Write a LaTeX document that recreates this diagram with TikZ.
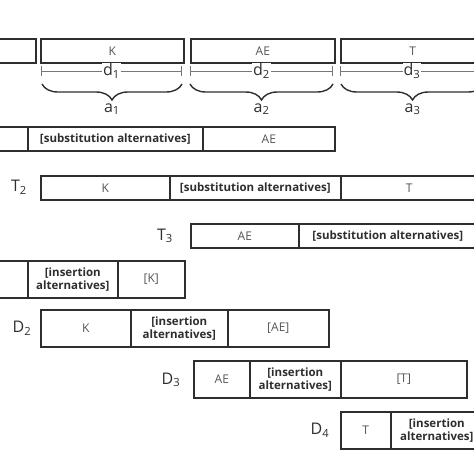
\documentclass[tikz,border=0pt]{standalone}
\usepackage{fontspec}
\setmainfont{Open Sans}
\usepackage{tikz}
\usetikzlibrary{arrows.meta, decorations.pathreplacing, calc}
\definecolor{boxgray}{HTML}{2E2E2E}
\definecolor{textgray}{HTML}{555555}
\definecolor{linegray}{HTML}{777777}

\begin{document}
\begin{tikzpicture}[x=1pt, y=-1pt,
  cell/.style={draw=boxgray, line width=1.6pt, anchor=north west, inner sep=0pt,
    align=center, text=textgray, font=\fontsize{12}{13}\selectfont},
  trow/.style={cell, minimum height=24pt},
  drow/.style={cell, minimum height=37pt},
  alt/.style={text=boxgray, font=\fontsize{11.5}{13.5}\selectfont\bfseries},
  lab/.style={text=boxgray, font=\fontsize{16}{16}\selectfont},
  dimline/.style={draw=linegray, line width=0.8pt, {Bar[width=10pt, line width=1.4pt]}-{Bar[width=10pt, line width=1.4pt]}},
  brace/.style={draw=boxgray, line width=1.4pt, decorate, decoration={brace, amplitude=16pt}}]

\useasboundingbox (0,0) rectangle (474,474);
\clip (0,0) rectangle (474,474);

% original sequence
\node[trow, minimum width=55pt]  (top0)  at (-20,38) {};
\node[trow, minimum width=143pt] (topK)  at (40,38)  {K};
\node[trow, minimum width=144pt] (topAE) at (190,38) {AE};
\node[trow, minimum width=144pt] (topT)  at (340,38) {T};

% durations
\coordinate (d1l) at (41,71);  \coordinate (d1r) at (182,71);
\coordinate (d2l) at (190,71); \coordinate (d2r) at (333,71);
\coordinate (d3l) at (340,71); \coordinate (d3r) at (484,71);
\draw[dimline] (d1l) -- (d1r) node[midway, fill=white, inner sep=1pt, lab] (d1) {d\textsubscript{1}};
\draw[dimline] (d2l) -- (d2r) node[midway, fill=white, inner sep=1pt, lab] (d2) {d\textsubscript{2}};
\draw[dimline] (d3l) -- (d3r) node[midway, fill=white, inner sep=1pt, lab] (d3) {d\textsubscript{3}};

% spans
\coordinate (a1l) at (42,84);  \coordinate (a1r) at (182,84);
\coordinate (a2l) at (190,84); \coordinate (a2r) at (333,84);
\coordinate (a3l) at (341,84); \coordinate (a3r) at (484,84);
\draw[brace] (a1r) -- (a1l);
\draw[brace] (a2r) -- (a2l);
\draw[brace] (a3r) -- (a3l);
\node[lab] (a1) at ($(a1l)!0.5!(a1r)+(0,25)$) {a\textsubscript{1}};
\node[lab] (a2) at ($(a2l)!0.5!(a2r)+(0,25)$) {a\textsubscript{2}};
\node[lab] (a3) at ($(a3l)!0.5!(a3r)+(0,25)$) {a\textsubscript{3}};

% substitutions
\node[trow, minimum width=47pt]  (t1a)  at (-20,126) {};
\node[trow, alt, minimum width=175pt] (t1S) at (27,126) {[substitution alternatives]};
\node[trow, minimum width=132pt] (t1AE) at (202,126) {AE};

\node[lab] (T2) at (19,187) {T\textsubscript{2}};
\node[trow, minimum width=129pt] (t2K) at (40,175) {K};
\node[trow, alt, minimum width=171pt] (t2S) at (169,175) {[substitution alternatives]};
\node[trow, minimum width=137pt] (t2T) at (340,175) {T};

\node[lab] (T3) at (165,236) {T\textsubscript{3}};
\node[trow, minimum width=108pt] (t3AE) at (190,223) {AE};
\node[trow, alt, minimum width=178pt] (t3S) at (298,223) {[substitution alternatives]};

% deletions
\node[drow, minimum width=47pt] (d1a) at (-20,260) {};
\node[drow, alt, minimum width=90pt] (d1I) at (27,260) {[insertion\\alternatives]};
\node[drow, minimum width=67pt] (d1K) at (117,260) {[K]};

\node[lab] (D2) at (22,328) {D\textsubscript{2}};
\node[drow, minimum width=90pt] (d2K) at (40,309) {K};
\node[drow, alt, minimum width=97pt] (d2I) at (130,309) {[insertion\\alternatives]};
\node[drow, minimum width=101pt] (d2AE) at (227,309) {[AE]};

\node[lab] (D3) at (171,380) {D\textsubscript{3}};
\node[drow, minimum width=56pt] (d3AE) at (193,360) {AE};
\node[drow, alt, minimum width=91pt] (d3I) at (249,360) {[insertion\\alternatives]};
\node[drow, minimum width=126pt] (d3T) at (340,360) {[T]};

\node[lab] (D4) at (320,430) {D\textsubscript{4}};
\node[drow, minimum width=50pt] (d4T) at (340,411) {T};
\node[drow, alt, minimum width=92pt] (d4I) at (390,411) {[insertion\\alternatives]};
\end{tikzpicture}
\end{document}
